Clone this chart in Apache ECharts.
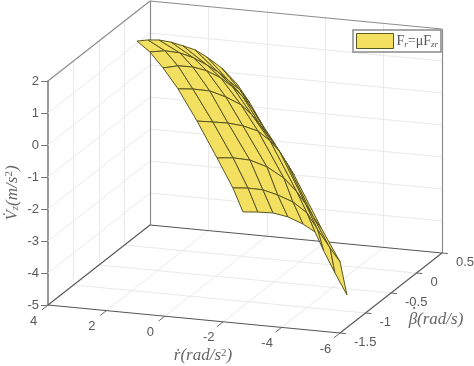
<!DOCTYPE html>
<html><head><meta charset="utf-8">
<style>html,body{margin:0;padding:0;background:#fff}#c{width:474px;height:366px}</style>
<script src="https://cdn.jsdelivr.net/npm/echarts@6/dist/echarts.min.js"></script>
</head><body><div id="c"></div>
<script>
// Tick values
var zTicks = [-5,-4,-3,-2,-1,0,1,2];
var rTicks = [4,2,0,-2,-4,-6];
var betaTicks = [-1.5,-1,-0.5,0,0.5];
var rTickLabels = ['4','2','0','-2','-4','-6'];
var betaTickLabels = ['-1.5','-1','-0.5','0','0.5'];

// Surface: one beta per row, r and Vz per mesh node
var betaRow = [-0.3,-0.35,-0.4,-0.45,-0.5,-0.55,-0.6,-0.7];
var rDot = [
 [3.05,2.67,2.29,1.88,1.47,1.06,0.65,0.14,-0.38],
 [2.52,2.00,1.49,1.01,0.56,0.19,-0.19,-0.57,-0.91],
 [1.98,1.47,0.96,0.48,0.00,-0.41,-0.76,-1.10,-1.41],
 [1.38,0.87,0.29,-0.26,-0.78,-1.15,-1.46,-1.70,-1.94],
 [0.64,0.10,-0.42,-0.93,-1.45,-1.86,-2.20,-2.47,-2.68],
 [-0.13,-0.68,-1.26,-1.84,-2.42,-2.87,-3.18,-3.45,-3.72],
 [-0.76,-1.28,-1.79,-2.30,-2.82,-3.30,-3.67,-4.09,-4.43],
 [-1.28,-1.79,-2.31,-2.82,-3.34,-3.75,-4.05,-4.43,-4.84]
];
var vz = [
 [1.83,1.90,1.93,1.90,1.82,1.73,1.54,1.24,0.79],
 [1.60,1.68,1.66,1.54,1.36,1.18,0.93,0.68,0.30],
 [1.21,1.32,1.33,1.25,1.07,0.82,0.54,0.17,-0.25],
 [0.67,0.71,0.70,0.56,0.36,0.08,-0.24,-0.50,-0.76],
 [-0.21,-0.19,-0.18,-0.22,-0.34,-0.61,-0.93,-1.31,-1.60],
 [-1.23,-1.18,-1.20,-1.36,-1.66,-2.06,-2.43,-2.82,-3.14],
 [-2.05,-2.01,-2.02,-2.14,-2.31,-2.61,-3.11,-3.64,-4.04],
 [-2.63,-2.59,-2.57,-2.65,-2.83,-3.04,-3.61,-4.26,-4.91]
];

// Orthographic view of the 3D box
var rMax = 4, rMin = -6, bMin = -1.5, bMax = 0.5, zMin = -5, zMax = 2;
function P(r, b, z) {
  var u = rMax - r, v = b - bMin, w = z - zMin;
  return [48 + 29.2*u + 51*v, 305 + 2.8*u - 40*v - 32*w];
}

function seg(a, b) { return {coords: [a, b]}; }
var gridSegs = [], boxLight = [], boxDark = [], tickSegs = [];
var zInner = zTicks.slice(1, -1);
zInner.concat([]).forEach(function (z) {
  gridSegs.push(seg(P(rMax,bMin,z), P(rMax,bMax,z)));
  gridSegs.push(seg(P(rMax,bMax,z), P(rMin,bMax,z)));
});
rTicks.slice(1, -1).forEach(function (r) {
  gridSegs.push(seg(P(r,bMax,zMin), P(r,bMax,zMax)));
  gridSegs.push(seg(P(r,bMin,zMin), P(r,bMax,zMin)));
});
betaTicks.slice(1, -1).forEach(function (b) {
  gridSegs.push(seg(P(rMax,b,zMin), P(rMax,b,zMax)));
  gridSegs.push(seg(P(rMax,b,zMin), P(rMin,b,zMin)));
});
boxLight.push(seg(P(rMax,bMin,zMax), P(rMax,bMax,zMax)));
boxLight.push(seg(P(rMax,bMax,zMax), P(rMin,bMax,zMax)));
boxLight.push(seg(P(rMax,bMax,zMin), P(rMax,bMax,zMax)));
boxLight.push(seg(P(rMin,bMax,zMin), P(rMin,bMax,zMax)));
boxDark.push(seg(P(rMax,bMin,zMin), P(rMax,bMax,zMin)));
boxDark.push(seg(P(rMax,bMax,zMin), P(rMin,bMax,zMin)));
boxDark.push(seg(P(rMax,bMin,zMin), P(rMin,bMin,zMin)));
boxDark.push(seg(P(rMin,bMin,zMin), P(rMin,bMax,zMin)));
rTicks.forEach(function (r) { tickSegs.push(seg(P(r,bMin,zMin), P(r,bMin-0.12,zMin))); });
betaTicks.forEach(function (b) { tickSegs.push(seg(P(rMin,b,zMin), P(rMin-0.2,b,zMin))); });

// Mesh quads, far rows first
var quads = [];
for (var i = 0; i < betaRow.length - 1; i++) {
  for (var j = 0; j < rDot[i].length - 1; j++) {
    var n = [P(rDot[i][j],betaRow[i],vz[i][j]), P(rDot[i][j+1],betaRow[i],vz[i][j+1]),
             P(rDot[i+1][j+1],betaRow[i+1],vz[i+1][j+1]), P(rDot[i+1][j],betaRow[i+1],vz[i+1][j])];
    quads.push([].concat(n[0],n[1],n[2],n[3]));
  }
}

var labels = [];
rTicks.forEach(function (r, k) {
  var p = P(r,bMin,zMin);
  labels.push([p[0]-14.5, p[1]+16, rTickLabels[k], 'center']);
});
betaTicks.forEach(function (b, k) {
  var p = P(rMin,b,zMin);
  labels.push([p[0]+14, p[1]+9, betaTickLabels[k], 'left']);
});

var fill = '#f3e060', meshLine = '#5a5622', serif = '"Liberation Serif"';
function linesSeries(data, color, width, z) {
  return {type:'lines', coordinateSystem:'cartesian2d', xAxisIndex:0, yAxisIndex:0, polyline:false, silent:true,
    z:z, data:data, lineStyle:{color:color, width:width, opacity:1}, effect:{show:false}};
}
var mathRich = function (size) {
  return {
    i:{fontFamily:serif, fontStyle:'italic', fontSize:size, fill:'#666', color:'#666'},
    sub:{fontFamily:serif, fontStyle:'italic', fontSize:size*0.65, fill:'#666', color:'#666', verticalAlign:'bottom', padding:[6,0,0,0]},
    sup:{fontFamily:serif, fontSize:size*0.65, fill:'#666', color:'#666', verticalAlign:'top', padding:[0,0,6,0]}
  };
};

var chart = echarts.init(document.getElementById('c'), null, {renderer:'canvas'});
chart.setOption({
  animation:false, backgroundColor:'#fff',
  grid:[
    {left:0, top:0, width:474, height:366, show:false},
    {left:48, top:81, width:1, height:224, show:false}
  ],
  xAxis:[
    {type:'value', gridIndex:0, min:0, max:474, show:false},
    {type:'value', gridIndex:1, min:0, max:1, show:false}
  ],
  yAxis:[
    {type:'value', gridIndex:0, min:0, max:366, inverse:true, show:false},
    {type:'value', gridIndex:1, min:zMin, max:zMax, interval:1, position:'left',
     axisLine:{show:true, onZero:false, lineStyle:{color:'#777', width:1.5}},
     axisTick:{show:true, length:7, lineStyle:{color:'#777', width:1}},
     axisLabel:{color:'#595959', fontFamily:'"Liberation Sans"', fontSize:13, margin:9},
     splitLine:{show:false},
     name:'{i|V̇}{sub|z}{i|(m/s}{sup|2}{i|)}', nameLocation:'middle', nameGap:27, nameRotate:90,
     nameTextStyle:{rich:mathRich(17)}}
  ],
  legend:{
    left:353, top:30, orient:'horizontal', padding:[3,3,3,3], itemWidth:37, itemHeight:15, itemGap:0,
    backgroundColor:'#fff', borderColor:'#8a8a8a', borderWidth:1.5, selectedMode:false,
    data:[{name:'Fr=μFzr', icon:'rect', itemStyle:{color:fill, borderColor:'#5b5720', borderWidth:1}}],
    formatter:function(){ return '{a|F}{s|r}{a|=μF}{s|zr}'; },
    textStyle:{padding:[0,0,0,-2], rich:{
      a:{fontFamily:serif, fontSize:14, color:'#555'},
      s:{fontFamily:serif, fontStyle:'italic', fontSize:9, color:'#555', verticalAlign:'bottom', padding:[7,0,0,0]}
    }}
  },
  graphic:[
    {type:'text', x:203, y:356, z:20, style:{text:'{i|ṙ(rad/s}{sup|2}{i|)}', align:'center', verticalAlign:'middle', rich:mathRich(17)}},
    {type:'text', x:436, y:320, z:20, style:{text:'{i|β(rad/s)}', align:'center', verticalAlign:'middle', rich:mathRich(17)}},
    {type:'text', x:414, y:305, z:20, style:{text:'.', fill:'#666', align:'center', verticalAlign:'middle', font:'17px "Liberation Serif"'}}
  ],
  series:[
    linesSeries(gridSegs, '#e9e9e9', 1, 1),
    linesSeries(boxLight, '#8c8c8c', 1.2, 2),
    linesSeries(boxDark, '#555', 1.1, 3),
    linesSeries(tickSegs, '#666', 1, 3),
    {type:'custom', name:'Fr=μFzr', xAxisIndex:0, yAxisIndex:0, coordinateSystem:'cartesian2d', z:5, silent:true,
     data:quads, encode:{x:0, y:1},
     itemStyle:{color:fill, borderColor:meshLine},
     renderItem:function(p, api){
       var pts = [];
       for (var k = 0; k < 4; k++) pts.push(api.coord([api.value(2*k), api.value(2*k+1)]));
       return {type:'polygon', shape:{points:pts}, style:{fill:fill, stroke:meshLine, lineWidth:1, lineJoin:'round'}};
     }},
    {type:'custom', xAxisIndex:0, yAxisIndex:0, coordinateSystem:'cartesian2d', z:6, silent:true,
     data:labels, encode:{x:0, y:1},
     renderItem:function(p, api){
       var c = api.coord([api.value(0), api.value(1)]);
       var l = labels[p.dataIndex];
       return {type:'text', x:c[0], y:c[1], style:{text:l[2], fill:'#595959', font:'13px "Liberation Sans"', align:l[3], verticalAlign:'middle'}};
     }}
  ]
});
</script></body></html>
